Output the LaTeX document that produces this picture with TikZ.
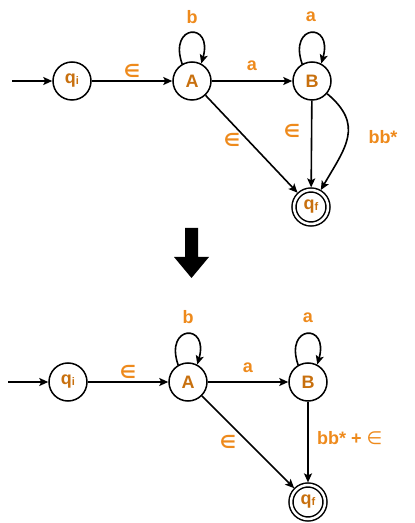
\documentclass[tikz,border=0pt]{standalone}
\usepackage{fontspec}
\setmainfont{Liberation Sans}
\newfontfamily\symfont{DejaVu Sans}
\usetikzlibrary{arrows.meta,positioning}
\definecolor{lblorange}{HTML}{EE8A1C}
\definecolor{txtorange}{HTML}{C8700E}
\newcommand{\qsub}[1]{q\raisebox{-1pt}{\fontsize{11}{11}\selectfont #1}}
\newcommand{\eps}{{\symfont ∈}}
\newcommand{\epsthin}{{\symfont\mdseries ∈}}

\begin{document}
\begin{tikzpicture}[x=1pt,y=1pt]
\tikzset{
  statenode/.style={circle,draw,line width=1.5pt,minimum size=38pt,inner sep=0pt,font=\fontsize{18}{18}\selectfont\bfseries,text=txtorange},
  finalnode/.style={statenode,minimum size=34pt,double,double distance=2.5pt,outer sep=2.6pt},
  directed/.style={-{Stealth[length=9pt,width=8pt,inset=2pt]},line width=1.6pt},
  lbl/.style={font=\fontsize{18}{18}\selectfont\bfseries,text=lblorange,inner sep=0pt}
}
\useasboundingbox (0,0) rectangle (415,523);
% before
\node[statenode] (n_qi) at (72,442) {\qsub{i}};
\node[statenode] (n_A) at (192,442) {A};
\node[statenode] (n_B) at (312,442) {B};
\node[finalnode] (n_qf) at (311,316) {\qsub{f}};
\coordinate (c_start) at (12,442);
\draw[directed] (c_start) -- (n_qi);
\draw[directed] (n_qi) -- (n_A);
\draw[directed] (n_A) -- (n_B);
\draw[directed] (n_A) -- (n_qf);
\draw[directed] (n_B) -- (n_qf);
\draw[directed] (n_B) to[out=-40,in=60,looseness=1.3] (n_qf);
\draw[directed] (n_A.120) .. controls +(-14,40) and +(12,42) .. (n_A.62);
\draw[directed] (n_B.120) .. controls +(-14,40) and +(12,42) .. (n_B.62);
\node[lbl] (l_b) at (192,506) {b};
\node[lbl] (l_a) at (311,506) {a};
\node[lbl] (l_e1) at (132,452) {\eps};
\node[lbl] (l_a2) at (252,457) {a};
\node[lbl] (l_e2) at (232,383) {\eps};
\node[lbl] (l_e3) at (292,392) {\eps};
\node[lbl] (l_bb) at (383,386) {bb*};
% arrow between
\fill (185,295) -- (198,295) -- (198,266) -- (209,266) -- (191.5,245) -- (174,266) -- (185,266) -- cycle;
% after
\node[statenode] (m_qi) at (68,141) {\qsub{i}};
\node[statenode] (m_A) at (188,141) {A};
\node[statenode] (m_B) at (308,141) {B};
\node[finalnode] (m_qf) at (308,21) {\qsub{f}};
\coordinate (d_start) at (8,141);
\draw[directed] (d_start) -- (m_qi);
\draw[directed] (m_qi) -- (m_A);
\draw[directed] (m_A) -- (m_B);
\draw[directed] (m_A) -- (m_qf);
\draw[directed] (m_B) -- (m_qf);
\draw[directed] (m_A.120) .. controls +(-14,40) and +(12,42) .. (m_A.62);
\draw[directed] (m_B.120) .. controls +(-14,40) and +(12,42) .. (m_B.62);
\node[lbl] (k_b) at (188,206) {b};
\node[lbl] (k_a) at (308,205) {a};
\node[lbl] (k_e1) at (128,151) {\eps};
\node[lbl] (k_a2) at (248,155) {a};
\node[lbl] (k_e2) at (228,81) {\eps};
\node[lbl,anchor=west] (k_bb) at (317,85) {bb* + \epsthin};
\end{tikzpicture}
\end{document}
